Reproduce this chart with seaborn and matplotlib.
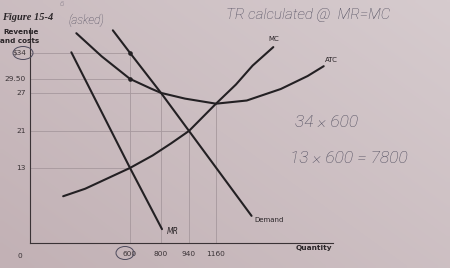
import numpy as np
import pandas as pd
import matplotlib
matplotlib.use("Agg")
import matplotlib.pyplot as plt
from matplotlib.patches import Ellipse
import seaborn as sns

# ---- data ----
demand_q = [497, 600, 800, 940, 1397]
demand_p = [37.9, 34, 27, 21, 4.7]
mr_q = [248, 600, 805]
mr_p = [34.1, 13, 2.4]
mc_q = [199, 331, 473, 600, 746, 850, 940, 1160, 1293, 1404, 1542]
mc_p = [8.1, 9.4, 11.3, 13, 15.7, 18.3, 21, 25.3, 28.5, 31.8, 35.0]
atc_q = [278, 430, 600, 733, 800, 920, 1160, 1365, 1592, 1771, 1878]
atc_p = [37.4, 33.4, 29.5, 27.8, 27, 26.1, 25.3, 25.8, 27.7, 30.0, 31.7]

x_ticks = [600, 800, 940, 1160]
x_labels = ["600", "800", "940", "1160"]
y_ticks = [13, 21, 27, 29.5, 34]
y_labels = ["13", "21", "27", "29.50", "$34"]

# drop lines (price, quantity) and (quantity, price)
h_drops = [(34, 600), (29.5, 600), (27, 800), (21, 940), (13, 600)]
v_drops = [(600, 34), (800, 27), (940, 21), (1160, 25.3)]

# non-uniform (not-to-scale) textbook axes
qk = np.array([0, 600, 800, 940, 1160, 2200], float)
qpos = np.array([0, 100, 131, 159, 186, 342], float)
pk = np.array([0, 13, 21, 27, 29.5, 34, 40], float)
ppos = np.array([0, 75, 112, 150, 164, 190, 224.7], float)

bg = "#cbbcc0"
sns.set_theme(style="white")
plt.rcParams["font.family"] = ["DejaVu Sans"]

fig = plt.figure(figsize=(4.5, 2.68), dpi=100, facecolor=bg)

# subtle photographic background shading
bgax = fig.add_axes([0, 0, 1, 1], zorder=-5)
gx, gy = np.meshgrid(np.linspace(0, 1, 90), np.linspace(0, 1, 54))
shade = 0.55 * gx + 0.45 * gy
c0 = np.array([0xc2, 0xb1, 0xb5]) / 255
c1 = np.array([0xd6, 0xcb, 0xce]) / 255
img = c0[None, None, :] + (c1 - c0)[None, None, :] * shade[..., None]
bgax.imshow(img, origin="lower", aspect="auto", extent=[0, 1, 0, 1], interpolation="bilinear")
bgax.axis("off")

ax = fig.add_axes([30 / 450, 1 - 243 / 268, 303 / 450, 215 / 268])
ax.patch.set_alpha(0)
ax.set_xscale("function", functions=(lambda v: np.interp(v, qk, qpos),
                                     lambda v: np.interp(v, qpos, qk)))
ax.set_yscale("function", functions=(lambda v: np.interp(v, pk, ppos),
                                     lambda v: np.interp(v, ppos, pk)))
ax.set_xlim(0, 1940)
ax.set_ylim(0, 38.3)

grid_c = "#a6989d"
for p, q in h_drops:
    ax.plot([0, q], [p, p], color=grid_c, lw=0.6, zorder=1)
for q, p in v_drops:
    ax.plot([q, q], [0, p], color=grid_c, lw=0.6, zorder=1)

line_c = "#232023"
for qs, ps in [(demand_q, demand_p), (mr_q, mr_p), (mc_q, mc_p), (atc_q, atc_p)]:
    df = pd.DataFrame({"q": qs, "p": ps})
    sns.lineplot(data=df, x="q", y="p", sort=False, color=line_c, lw=1.5,
                 ax=ax, zorder=3)

ax.plot([600, 600], [34, 29.5], ls="none", marker="o", ms=2.3, color=line_c, zorder=4)

lab_kw = dict(fontsize=5, color="#2a2528")
ax.text(mc_q[-1] + 5, mc_p[-1] + 0.9, "MC", ha="center", va="bottom", **lab_kw)
ax.text(atc_q[-1] + 10, atc_p[-1] + 0.5, "ATC", ha="left", va="bottom", **lab_kw)
ax.text(demand_q[-1] + 20, demand_p[-1] - 0.8, "Demand", ha="left", va="center", **lab_kw)
ax.text(mr_q[-1] + 25, mr_p[-1] - 0.4, "MR", ha="left", va="center",
        fontstyle="italic", fontsize=5.5, color="#2a2528")

ax.set_xticks(x_ticks)
ax.set_xticklabels(x_labels)
ax.set_yticks(y_ticks)
ax.set_yticklabels(y_labels)
ax.tick_params(axis="x", length=0, labelsize=5.3, labelcolor="#3a3336", pad=6)
ax.tick_params(axis="y", length=0, labelsize=5.3, labelcolor="#3a3336", pad=3)
ax.set_xlabel("")
ax.set_ylabel("")
for s in ["top", "right"]:
    ax.spines[s].set_visible(False)
for s in ["left", "bottom"]:
    ax.spines[s].set_color("#3a3336")
    ax.spines[s].set_linewidth(0.8)

# figure texts
fig.text(2 / 450, 1 - 18 / 268, "Figure 15-4", fontsize=7.5, fontweight="bold",
         fontstyle="italic", family=["Liberation Serif", "DejaVu Serif"], color="#2a2528",
         va="center")
fig.text(39 / 450, 1 - 32 / 268, "Revenue", fontsize=5.2, fontweight="bold",
         ha="right", va="center", color="#2a2528")
fig.text(39 / 450, 1 - 41 / 268, "and costs", fontsize=5.2, fontweight="bold",
         ha="right", va="center", color="#2a2528")
fig.text(20 / 450, 1 - 256 / 268, "0", fontsize=5.3, ha="center", va="center",
         color="#3a3336")
fig.text(332 / 450, 1 - 248 / 268, "Quantity", fontsize=5.3, fontweight="bold",
         ha="right", va="center", color="#2a2528")

hand = dict(color="#4d4a5c", fontstyle="italic", fontweight="light",
            family=["Roboto", "DejaVu Sans"], va="center")
fig.text(60 / 450, 1 - 4 / 268, "6", fontsize=6, **hand)
fig.text(68 / 450, 1 - 20 / 268, "(asked)", fontsize=8.5, **hand)
fig.text(226 / 450, 1 - 15 / 268, "TR calculated @  MR=MC", fontsize=11, **hand)
fig.text(295 / 450, 1 - 122 / 268, "34 × 600", fontsize=12.5, **hand)
fig.text(290 / 450, 1 - 158 / 268, "13 × 600 = 7800", fontsize=12.5, **hand)

fig.add_artist(Ellipse((23 / 450, 1 - 53 / 268), 20 / 450, 13 / 268,
                       transform=fig.transFigure, fill=False, ec="#4d4a5c", lw=0.7))
fig.add_artist(Ellipse((125 / 450, 1 - 253 / 268), 18 / 450, 13 / 268,
                       transform=fig.transFigure, fill=False, ec="#4d4a5c", lw=0.7))

fig.savefig("out.png", dpi=100, facecolor=bg)
